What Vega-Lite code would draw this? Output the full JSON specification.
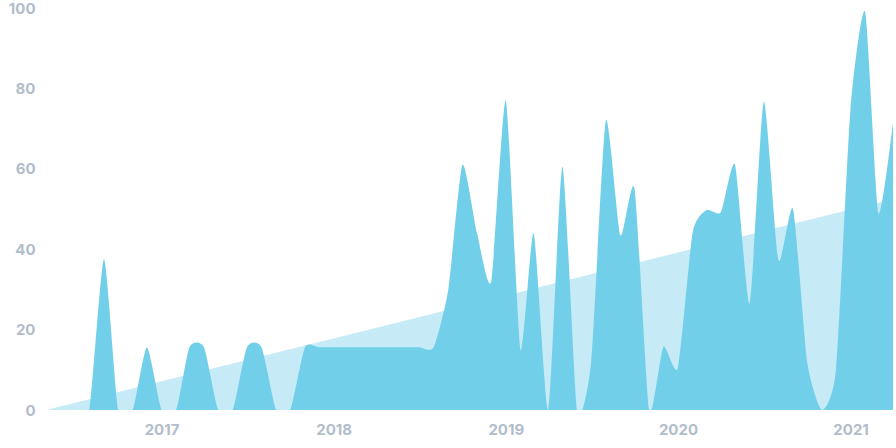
{
  "$schema": "https://vega.github.io/schema/vega-lite/v6.json",
  "autosize": "none",
  "width": 847,
  "height": 402,
  "padding": {"left": 46, "top": 8, "right": 3, "bottom": 38},
  "background": "white",
  "datasets": {
    "monthly": [
      {"month": "2016-05-01", "value": 0},
      {"month": "2016-06-01", "value": 0},
      {"month": "2016-07-01", "value": 0},
      {"month": "2016-08-01", "value": 0},
      {"month": "2016-09-01", "value": 37.5},
      {"month": "2016-10-01", "value": 0},
      {"month": "2016-11-01", "value": 0},
      {"month": "2016-12-01", "value": 15.6},
      {"month": "2017-01-01", "value": 0},
      {"month": "2017-02-01", "value": 0},
      {"month": "2017-03-01", "value": 15.6},
      {"month": "2017-04-01", "value": 15.6},
      {"month": "2017-05-01", "value": 0},
      {"month": "2017-06-01", "value": 0},
      {"month": "2017-07-01", "value": 15.6},
      {"month": "2017-08-01", "value": 15.6},
      {"month": "2017-09-01", "value": 0},
      {"month": "2017-10-01", "value": 0},
      {"month": "2017-11-01", "value": 15.6},
      {"month": "2017-12-01", "value": 15.6},
      {"month": "2018-01-01", "value": 15.6},
      {"month": "2018-02-01", "value": 15.6},
      {"month": "2018-03-01", "value": 15.6},
      {"month": "2018-04-01", "value": 15.6},
      {"month": "2018-05-01", "value": 15.6},
      {"month": "2018-06-01", "value": 15.6},
      {"month": "2018-07-01", "value": 15.6},
      {"month": "2018-08-01", "value": 15.6},
      {"month": "2018-09-01", "value": 30},
      {"month": "2018-10-01", "value": 61},
      {"month": "2018-11-01", "value": 44},
      {"month": "2018-12-01", "value": 32},
      {"month": "2019-01-01", "value": 77},
      {"month": "2019-02-01", "value": 15},
      {"month": "2019-03-01", "value": 44},
      {"month": "2019-04-01", "value": 0},
      {"month": "2019-05-01", "value": 60.5},
      {"month": "2019-06-01", "value": 0},
      {"month": "2019-07-01", "value": 12},
      {"month": "2019-08-01", "value": 72},
      {"month": "2019-09-01", "value": 43.5},
      {"month": "2019-10-01", "value": 55},
      {"month": "2019-11-01", "value": 0},
      {"month": "2019-12-01", "value": 15.7},
      {"month": "2020-01-01", "value": 10.5},
      {"month": "2020-02-01", "value": 44},
      {"month": "2020-03-01", "value": 49.7},
      {"month": "2020-04-01", "value": 49.2},
      {"month": "2020-05-01", "value": 61},
      {"month": "2020-06-01", "value": 26.5},
      {"month": "2020-07-01", "value": 76.7},
      {"month": "2020-08-01", "value": 37.3},
      {"month": "2020-09-01", "value": 50},
      {"month": "2020-10-01", "value": 12},
      {"month": "2020-11-01", "value": 0},
      {"month": "2020-12-01", "value": 10},
      {"month": "2021-01-01", "value": 75},
      {"month": "2021-02-01", "value": 99},
      {"month": "2021-03-01", "value": 49},
      {"month": "2021-04-01", "value": 71.5}
    ],
    "trend": [
      {"month": "2016-05-01", "value": 0},
      {"month": "2021-04-01", "value": 52.5}
    ]
  },
  "encoding": {
    "x": {
      "field": "month",
      "type": "temporal",
      "title": null,
      "scale": {
        "type": "utc",
        "domain": ["2016-05-01", "2021-04-01"],
        "nice": false
      },
      "axis": {
        "format": "%Y",
        "tickCount": {"interval": "year", "step": 1},
        "domain": false,
        "ticks": false,
        "grid": false,
        "labelPadding": 12
      }
    },
    "y": {
      "field": "value",
      "type": "quantitative",
      "title": null,
      "scale": {"domain": [0, 100], "nice": false},
      "axis": {
        "values": [0, 20, 40, 60, 80, 100],
        "domain": false,
        "ticks": false,
        "grid": false,
        "labelPadding": 11
      }
    }
  },
  "layer": [
    {
      "data": {"name": "trend"},
      "mark": {"type": "area", "color": "#c6eaf6", "interpolate": "linear"}
    },
    {
      "data": {"name": "monthly"},
      "mark": {
        "type": "area",
        "color": "#72cfea",
        "interpolate": "cardinal",
        "tension": 0.4,
        "clip": true
      }
    }
  ],
  "config": {
    "view": {"stroke": null},
    "axis": {
      "labelFont": "Inter",
      "labelFontSize": 15,
      "labelFontWeight": "bold",
      "labelColor": "#b2bdcb"
    }
  }
}
